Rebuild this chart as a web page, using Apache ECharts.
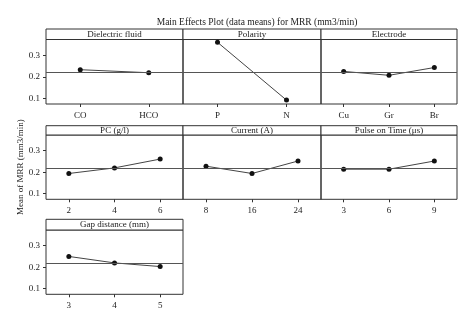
<!DOCTYPE html>
<html><head><meta charset="utf-8">
<script src="https://cdn.jsdelivr.net/npm/echarts@6/dist/echarts.min.js"></script>
<style>html,body{margin:0;padding:0;background:#fff}#c{width:474px;height:326px}</style>
</head><body><div id="c"></div>
<script>
const chartTitle = 'Main Effects Plot (data means) for MRR (mm3/min)';
const yAxisTitle = 'Mean of MRR (mm3/min)';
const factorNames = ['Dielectric fluid','Polarity','Electrode','PC (g/l)','Current (A)','Pulse on Time (μs)','Gap distance (mm)'];
const dielectricLevels = ['CO','HCO'];
const dielectricMeans = [0.233, 0.219];
const polarityLevels = ['P','N'];
const polarityMeans = [0.360, 0.092];
const electrodeLevels = ['Cu','Gr','Br'];
const electrodeMeans = [0.225, 0.207, 0.243];
const pcLevels = ['2','4','6'];
const pcMeans = [0.194, 0.220, 0.261];
const currentLevels = ['8','16','24'];
const currentMeans = [0.228, 0.194, 0.252];
const pulseLevels = ['3','6','9'];
const pulseMeans = [0.214, 0.214, 0.252];
const gapLevels = ['3','4','5'];
const gapMeans = [0.250, 0.220, 0.203];
const grandMean = 0.223;
const yTicks = [0.1, 0.2, 0.3];
const yMin = 0.074, yMax = 0.373;

const levels = [dielectricLevels, polarityLevels, electrodeLevels, pcLevels, currentLevels, pulseLevels, gapLevels];
const means = [dielectricMeans, polarityMeans, electrodeMeans, pcMeans, currentMeans, pulseMeans, gapMeans];

// layout
const colX = [[46,137],[183,138],[321,136]];
const rows = [{strip:29, top:39.5, h:64.5},{strip:125.7, top:135, h:64.3},{strip:219.3, top:230, h:64.3}];
const FONT = 'Liberation Serif';
const ink = '#333';

const grids = [], xAxes = [], yAxes = [], series = [], graphics = [];
factorNames.forEach((name, i) => {
  const r = Math.floor(i / 3), c = i % 3;
  const [left, width] = colX[c];
  const row = rows[r];
  grids.push({left: left, top: row.top, width: width, height: row.h, show: true, borderColor: ink, borderWidth: 1, containLabel: false});
  xAxes.push({
    type: 'category', gridIndex: i, data: levels[i], boundaryGap: true,
    axisLine: {show: false},
    axisTick: {show: true, alignWithLabel: true, length: 3, lineStyle: {color: ink}},
    axisLabel: {fontFamily: FONT, fontSize: 9, color: '#222', margin: 7},
    splitLine: {show: false}
  });
  const isLeft = c === 0;
  yAxes.push({
    type: 'value', gridIndex: i, min: yMin, max: yMax,
    axisLine: {show: false},
    axisTick: {show: isLeft, length: 3, lineStyle: {color: ink}, customValues: yTicks},
    axisLabel: {show: isLeft, fontFamily: FONT, fontSize: 9, color: '#222', margin: 6, customValues: yTicks, formatter: v => v.toFixed(1)},
    splitLine: {show: false},
    name: (i === 3) ? yAxisTitle : '',
    nameLocation: 'middle', nameRotate: 90, nameGap: 21,
    nameTextStyle: {fontFamily: FONT, fontSize: 9, color: '#222'}
  });
  series.push({
    type: 'line', xAxisIndex: i, yAxisIndex: i, data: means[i],
    symbol: 'circle', symbolSize: 5,
    lineStyle: {color: '#444', width: 1},
    itemStyle: {color: '#111'},
    animation: false,
    markLine: {
      silent: true, symbol: 'none', label: {show: false},
      lineStyle: {color: '#555', type: 'solid', width: 1},
      data: [{yAxis: grandMean}], animation: false
    }
  });
  graphics.push({
    type: 'rect', shape: {x: left, y: row.strip, width: width, height: row.top - row.strip},
    style: {fill: '#fff', stroke: ink, lineWidth: 1}
  });
  graphics.push({
    type: 'text', x: left + width / 2, y: (row.strip + row.top) / 2,
    style: {text: name, font: '9px "' + FONT + '"', fill: '#222', align: 'center', verticalAlign: 'middle'}
  });
});

const chart = echarts.init(document.getElementById('c'), null, {renderer: 'canvas'});
chart.setOption({
  backgroundColor: '#fff',
  animation: false,
  title: {text: chartTitle, left: 252, top: 12, textAlign: 'center',
    textStyle: {fontFamily: FONT, fontSize: 9.5, fontWeight: 'normal', color: '#222'}},
  grid: grids, xAxis: xAxes, yAxis: yAxes, series: series, graphic: graphics
});
</script></body></html>
